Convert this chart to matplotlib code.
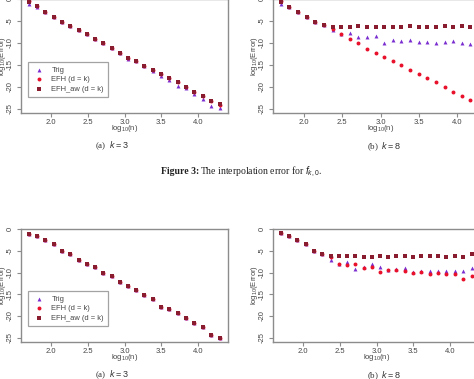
import matplotlib
matplotlib.use("Agg")
import matplotlib.pyplot as plt

plt.rcParams['font.family'] = ['Liberation Sans', 'DejaVu Sans']
plt.rcParams['mathtext.fontset'] = 'custom'
plt.rcParams['mathtext.rm'] = 'Liberation Sans'
plt.rcParams['mathtext.it'] = 'Liberation Sans:italic'

log_n = [1.70, 1.81, 1.92, 2.04, 2.15, 2.26, 2.38, 2.49, 2.60, 2.71, 2.83, 2.94,
         3.05, 3.16, 3.27, 3.39, 3.50, 3.61, 3.72, 3.84, 3.95, 4.06, 4.17, 4.30]

# Top row (figure 3)
tl_trig = [-1.2, -1.7, -2.9, -4.0, -5.15, -6.1, -7.0, -7.9, -9.1, -10.1, -11.2, -12.2,
           -13.7, -14.2, -15.3, -16.3, -17.5, -18.5, -19.9, -20.4, -21.6, -22.9, -24.5, -24.9]
tl_efh = [-0.5, -1.5, -2.9, -4.0, -5.15, -6.1, -7.0, -7.9, -9.1, -10.1, -11.2, -12.2,
          -13.5, -14.1, -15.2, -16.2, -17.1, -18.1, -19.0, -20.1, -21.3, -22.1, -23.2, -24.1]
tl_aw = [-0.7, -1.6, -2.9, -4.0, -5.15, -6.1, -7.0, -7.9, -9.1, -10.1, -11.2, -12.2,
         -13.4, -14.1, -15.2, -16.1, -17.1, -18.1, -19.0, -20.0, -21.3, -22.1, -23.2, -24.0]

tr_trig = [-1.2, -1.8, -3.0, -4.0, -5.15, -6.0, -7.0, -8.0, -7.8, -8.7, -8.7, -8.3,
           -10.1, -9.4, -9.5, -9.4, -9.7, -9.7, -9.9, -9.7, -9.5, -10.1, -10.2, -10.0]
tr_efh = [-0.5, -1.7, -3.0, -4.0, -5.15, -6.0, -6.8, -8.0, -9.1, -10.1, -11.3, -12.2,
          -13.2, -14.1, -15.1, -16.1, -17.0, -18.1, -19.0, -20.1, -21.1, -22.1, -23.1, -24.0]
tr_aw = [-0.7, -1.75, -3.0, -4.0, -5.15, -6.0, -6.4, -6.4, -6.3, -6.1, -6.4, -6.4,
         -6.3, -6.4, -6.35, -6.1, -6.4, -6.3, -6.4, -6.1, -6.3, -6.1, -6.3, -6.2]

# Bottom row
bl_trig = [-1.0, -1.5, -2.6, -3.45, -5.1, -5.8, -7.1, -8.05, -8.8, -10.0, -10.8, -12.2,
           -13.2, -14.0, -15.2, -16.0, -17.9, -18.4, -19.2, -20.4, -21.6, -22.5, -24.5, -25.1]
bl_efh = list(bl_trig)
bl_aw = list(bl_trig)

br_trig = [-0.9, -1.5, -2.5, -3.5, -5.0, -5.75, -7.1, -8.05, -7.5, -9.1, -8.8, -8.0,
           -8.6, -9.4, -9.1, -8.9, -9.9, -9.7, -9.7, -9.7, -9.7, -9.7, -9.7, -8.9]
br_efh = [-0.9, -1.5, -2.5, -3.5, -5.0, -5.75, -6.4, -8.05, -8.2, -8.1, -9.05, -8.8,
          -9.9, -9.4, -9.5, -9.7, -10.1, -9.9, -10.4, -10.1, -10.4, -10.4, -11.4, -10.7]
br_aw = [-0.9, -1.5, -2.5, -3.5, -5.0, -5.75, -6.2, -6.1, -6.1, -6.1, -6.4, -6.4,
         -6.1, -6.4, -6.1, -6.1, -6.4, -6.1, -6.2, -6.1, -6.3, -6.1, -6.3, -5.8]

labels = ['Trig', 'EFH (d = k)', 'EFH_aw (d = k)']
y_ticks = [0, -5, -10, -15, -20, -25]
x_ticks = [2.0, 2.5, 3.0, 3.5, 4.0]

c_trig = '#7a2ed0'
c_efh = '#e8102a'
c_aw = '#8a1c30'
gray = '#8c8c8c'
txt = '#444444'
FS = 5.5

W, H = 474, 379
fig = plt.figure(figsize=(W / 100, H / 100), dpi=100)


def add_ax(left, top, width, height):
    return fig.add_axes([left / W, 1 - (top + height) / H, width / W, height / H])


def style(ax, legend, width, height, ylab_px, xlab_px):
    ax.set_xlim(1.595, 4.405)
    ax.set_ylim(-26, 0.05)
    for s in ax.spines.values():
        s.set_color(gray)
        s.set_linewidth(1.0)
    ax.set_xticks(x_ticks)
    ax.set_xticklabels([f'{v:.1f}' for v in x_ticks])
    ax.set_yticks(y_ticks)
    ax.set_yticklabels([str(v) for v in y_ticks], rotation=90, va='center')
    ax.tick_params(direction='out', length=3, width=0.8, color=gray,
                   labelsize=FS, labelcolor=txt)
    ax.tick_params(axis='x', pad=1.0)
    ax.tick_params(axis='y', pad=2.2)
    ax.set_xlabel(r'log$_{10}$(n)', fontsize=FS, color=txt, va='center')
    ax.set_ylabel(r'log$_{10}$(Error)', fontsize=FS, color=txt, va='center')
    ax.yaxis.set_label_coords(-ylab_px / width, 0.5)
    ax.xaxis.set_label_coords(0.5, -xlab_px / height)
    if legend:
        leg = ax.legend(loc='lower left', bbox_to_anchor=(0.035, 0.14),
                        fontsize=5.4, frameon=True, fancybox=False,
                        handletextpad=0.9, borderpad=0.6, labelspacing=0.3,
                        handlelength=1.6, borderaxespad=0)
        leg.get_frame().set_edgecolor(gray)
        leg.get_frame().set_linewidth(0.9)
        for t in leg.get_texts():
            t.set_color(txt)


def draw(ax, trig, efh, aw, legend, width, height):
    ax.scatter(log_n, trig, marker='^', s=8, color=c_trig, linewidths=0, label=labels[0], zorder=3)
    ax.scatter(log_n, efh, marker='o', s=8, color=c_efh, linewidths=0, label=labels[1], zorder=4)
    ax.scatter(log_n, aw, marker='s', s=7, color=c_aw, linewidths=0, label=labels[2], zorder=5)
    style(ax, legend, width, height, 18.5, 15.3)


ax1 = add_ax(21, -1, 207, 114)
draw(ax1, tl_trig, tl_efh, tl_aw, True, 207, 114)
ax2 = add_ax(273, -1, 215, 114)
draw(ax2, tr_trig, tr_efh, tr_aw, False, 215, 114)
ax3 = add_ax(21, 229, 207, 113)
draw(ax3, bl_trig, bl_efh, bl_aw, True, 207, 113)
ax4 = add_ax(273, 229, 207, 113)
draw(ax4, br_trig, br_efh, br_aw, False, 207, 113)

serif = ['Liberation Serif', 'DejaVu Serif']
cap = dict(fontsize=6.5, color='#333333', family=serif, ha='center', va='center')
fig.text(112 / W, 1 - 146 / H, r'(a)  $k = 3$', **cap)
fig.text(384 / W, 1 - 147 / H, r'(b)  $k = 8$', **cap)
fig.text(112 / W, 1 - 375 / H, r'(a)  $k = 3$', **cap)
fig.text(384 / W, 1 - 376 / H, r'(b)  $k = 8$', **cap)

fig.text(161 / W, 1 - 172 / H, 'Figure 3:', fontsize=7, fontweight='bold',
         color='#222222', family=serif, ha='left', va='center')
fig.text(200 / W, 1 - 172 / H, r'The interpolation error for $f_{k,0}$.', fontsize=7,
         color='#222222', family=serif, ha='left', va='center')

fig.savefig('out.png', dpi=100)
